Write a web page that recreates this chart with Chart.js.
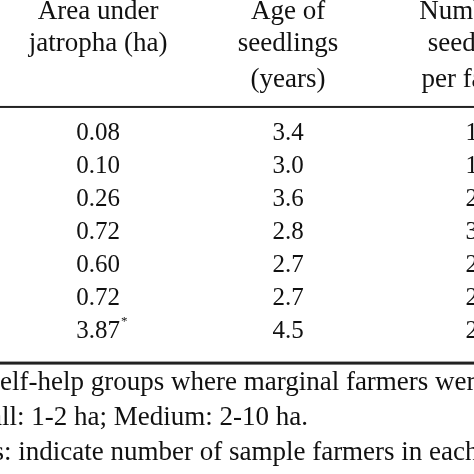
<!DOCTYPE html>
<html><head><meta charset="utf-8">
<script src="https://cdn.jsdelivr.net/npm/chart.js@4"></script>
<style>html,body{margin:0;padding:0;background:#fff}#w{width:474px;height:474px}</style>
</head><body><div id="w"><canvas id="c"></canvas></div>
<script>
const headers = [
  ["Area under", "jatropha (ha)"],
  ["Age of", "seedlings", "(years)"],
  ["Number of", "seedlings", "per farmer"]
];
const areaValues = ["0.08", "0.10", "0.26", "0.72", "0.60", "0.72", "3.87"];
const ageValues = ["3.4", "3.0", "3.6", "2.8", "2.7", "2.7", "4.5"];
const numberValues = ["13", "19", "21", "30", "23", "22", "20"];
const footnotes = [
  ["S", "elf-help groups where marginal farmers were"],
  ["Sma", "ll: 1-2 ha; Medium: 2-10 ha."],
  ["Figures", ": indicate number of sample farmers in each"]
];
const columns = [areaValues, ageValues, numberValues];
const points = [];
columns.forEach((col, c) => col.forEach((v, r) => points.push({x: c, y: r, t: v})));

const FONT = '27px "Liberation Serif", "Times New Roman", serif';
const NUMFONT = '25px "Liberation Serif", "Times New Roman", serif';
const tablePlugin = {
  id: 'table',
  afterDatasetsDraw(chart) {
    const ctx = chart.ctx, xs = chart.scales.x, ys = chart.scales.y;
    ctx.save();
    ctx.fillStyle = '#111'; ctx.font = FONT; ctx.textBaseline = 'middle'; ctx.textAlign = 'center';
    const headerRows = [-3.67, -2.7, -1.6];
    headers.forEach((lines, c) => lines.forEach((l, i) => {
      ctx.fillText(l, xs.getPixelForValue(c), ys.getPixelForValue(headerRows[i]));
    }));
    ctx.font = NUMFONT;
    points.forEach(p => {
      const px = xs.getPixelForValue(p.x), py = ys.getPixelForValue(p.y);
      ctx.fillText(p.t, px, py);
      if (p.t === "3.87") {
        const w = ctx.measureText(p.t).width;
        ctx.font = '13px "Liberation Serif", serif';
        ctx.textAlign = 'left';
        ctx.fillText("*", px + w / 2 + 1, py - 9);
        ctx.font = NUMFONT; ctx.textAlign = 'center';
      }
    });
    ctx.fillStyle = '#222';
    ctx.fillRect(0, ys.getPixelForValue(-0.79) - 1, 474, 2);
    ctx.fillRect(0, ys.getPixelForValue(6.97) - 1.5, 474, 3);
    ctx.fillStyle = '#111';
    ctx.font = FONT;
    const fnRows = [7.58, 8.64, 9.7];
    const starts = [0, 2, 4];
    footnotes.forEach((f, i) => {
      const py = ys.getPixelForValue(fnRows[i]);
      ctx.textAlign = 'right'; ctx.fillText(f[0], starts[i], py);
      ctx.textAlign = 'left'; ctx.fillText(f[1], starts[i], py);
    });
    ctx.restore();
  }
};

new Chart(document.getElementById('c'), {
  type: 'scatter',
  data: { datasets: [{ data: points, pointRadius: 0 }] },
  options: {
    responsive: true, maintainAspectRatio: false, animation: false,
    layout: { padding: 0 },
    plugins: { legend: { display: false }, tooltip: { enabled: false } },
    scales: {
      x: { type: 'linear', display: false, min: -0.516, max: 1.979 },
      y: { type: 'linear', display: false, reverse: true, min: -4.03, max: 10.33 }
    }
  },
  plugins: [tablePlugin]
});
</script></body></html>
